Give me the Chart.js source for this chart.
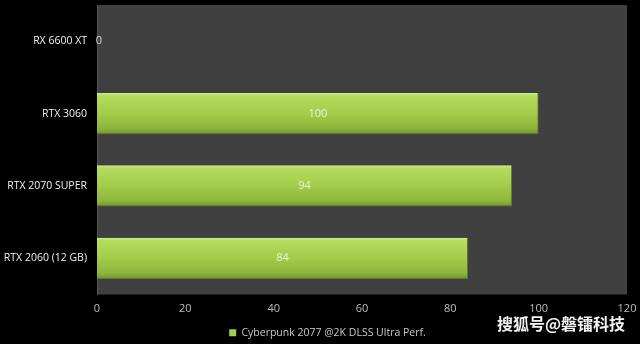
<!DOCTYPE html>
<html>
<head>
<meta charset="utf-8">
<script src="https://cdn.jsdelivr.net/npm/chart.js@4/dist/chart.umd.min.js"></script>
<style>
html,body{margin:0;padding:0;background:#000;}
#wrap{width:640px;height:344px;position:relative;}
</style>
</head>
<body>
<div id="wrap"><canvas id="c" width="640" height="344"></canvas></div>
<script>
const categories = ["RX 6600 XT", "RTX 3060", "RTX 2070 SUPER", "RTX 2060 (12 GB)"];
const values = [0, 100, 94, 84];
const seriesName = "Cyberpunk 2077 @2K DLSS Ultra Perf.";
const xTicks = [0, 20, 40, 60, 80, 100, 120];
const watermark = "搜狐号@磐镭科技";

const bgPlugin = {
  id: 'bgPlugin',
  afterLayout(chart) {
    if (chart.legend) { chart.legend.left += 14; chart.legend.right += 14; }
  },
  beforeDraw(chart) {
    const {ctx, chartArea: a} = chart;
    ctx.save();
    ctx.fillStyle = '#000';
    ctx.fillRect(0, 0, chart.width, chart.height);
    ctx.fillStyle = '#404040';
    ctx.fillRect(a.left, a.top, a.right - a.left, a.bottom - a.top);
    ctx.restore();
  },
  afterDraw(chart) {
    const {ctx} = chart;
    const meta = chart.getDatasetMeta(0);
    ctx.save();
    ctx.font = '11px "Open Sans", "DejaVu Sans", sans-serif';
    ctx.textAlign = 'center';
    ctx.textBaseline = 'middle';
    meta.data.forEach((bar, i) => {
      const v = values[i];
      const x = (bar.x + bar.base) / 2;
      ctx.fillStyle = v === 0 ? '#d8d8d8' : '#eaf3d2';
      ctx.fillText(String(v), v === 0 ? x + 2 : x, bar.y);
    });
    ctx.font = 'bold 16px "Noto Sans CJK SC", sans-serif';
    ctx.textAlign = 'right';
    ctx.fillStyle = '#f2f2f2';
    ctx.fillText(watermark, 625, 324);
    ctx.restore();
  }
};

function barColor(context) {
  const chart = context.chart;
  if (!chart.chartArea || !chart.scales.y) return '#a2cc4c';
  const y = chart.scales.y.getPixelForValue(context.dataIndex);
  const h = 42;
  const g = chart.ctx.createLinearGradient(0, y - h / 2, 0, y + h / 2);
  g.addColorStop(0, '#d4ee8c');
  g.addColorStop(0.08, '#b4dc5e');
  g.addColorStop(0.45, '#a4cf4e');
  g.addColorStop(0.85, '#8fb63c');
  g.addColorStop(1, '#6f8f2c');
  return g;
}

new Chart(document.getElementById('c'), {
  type: 'bar',
  data: {
    labels: categories,
    datasets: [{
      label: seriesName,
      data: values,
      backgroundColor: barColor,
      borderColor: '#5f7a26',
      borderWidth: {top: 0, bottom: 1, right: 1, left: 0},
      barPercentage: 0.57,
      categoryPercentage: 1.0
    }]
  },
  plugins: [bgPlugin],
  options: {
    indexAxis: 'y',
    responsive: false,
    animation: false,
    devicePixelRatio: 1,
    layout: {padding: {top: 5, right: 13, left: 0, bottom: -4}},
    scales: {
      x: {
        min: 0, max: 120,
        afterBuildTicks(scale) { scale.ticks = xTicks.map(v => ({value: v})); },
        grid: {display: false, drawTicks: false},
        border: {display: false},
        ticks: {color: '#bdbdbd', font: {size: 11, family: '"Open Sans", "DejaVu Sans", sans-serif'}, padding: 8, maxRotation: 0},
        afterFit(scale) { scale.height = 33; scale.paddingLeft = 0; scale.paddingRight = 0; }
      },
      y: {
        grid: {display: false, drawTicks: false},
        border: {display: true, color: '#555', width: 1},
        ticks: {color: '#f0f0f0', font: {size: 10.5, family: '"Open Sans", "DejaVu Sans", sans-serif'}, padding: 10},
        afterFit(scale) { scale.width = 97; scale.paddingTop = 0; scale.paddingBottom = 0; }
      }
    },
    plugins: {
      legend: {
        position: 'bottom',
        labels: {
          color: '#c8c8c8',
          font: {size: 10.5, family: '"Open Sans", "DejaVu Sans", sans-serif'},
          boxWidth: 7, boxHeight: 7,
          padding: 0,
          generateLabels() {
            return [{text: seriesName, fillStyle: '#a2cc4c', strokeStyle: '#a2cc4c', lineWidth: 0, fontColor: '#c8c8c8', datasetIndex: 0}];
          }
        }
      },
      tooltip: {enabled: false}
    }
  }
});
</script>
</body>
</html>
